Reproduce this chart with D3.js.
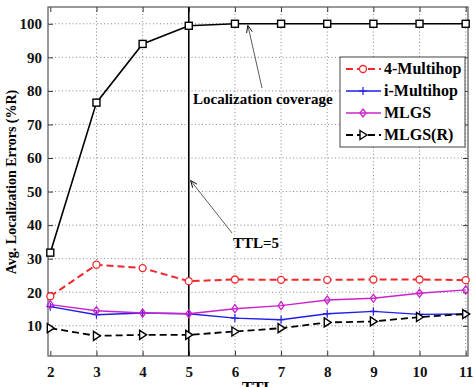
<!DOCTYPE html>
<html>
<head>
<meta charset="utf-8">
<script src="https://cdn.jsdelivr.net/npm/d3@7"></script>
<style>
  body { margin: 0; background: #fff; }
  text { font-family: "Liberation Serif", "Times New Roman", serif; font-weight: bold; }
</style>
</head>
<body>
<svg class="chart" width="474" height="387"></svg>
<script>
// values
let ttl = [2, 3, 4, 5, 6, 7, 8, 9, 10, 11];
let coverage = [31.8, 76.5, 94.0, 99.4, 100, 100, 100, 100, 100, 100];
let multihop4 = [18.8, 28.2, 27.2, 23.3, 23.8, 23.7, 23.7, 23.8, 23.8, 23.6];
let iMultihop = [15.7, 13.3, 13.8, 13.6, 12.3, 11.8, 13.6, 14.3, 13.4, 13.5];
let mlgs = [16.3, 14.5, 13.8, 13.6, 15.1, 16.0, 17.7, 18.2, 19.7, 20.7];
let mlgsR = [9.3, 7.0, 7.3, 7.3, 8.3, 9.3, 11.0, 11.3, 12.6, 13.5];
let yTicks = [10, 20, 30, 40, 50, 60, 70, 80, 90, 100];

let margin = { top: 7, right: 6, bottom: 31, left: 48 };
let svg = d3.select(".chart");
let width = 474 - margin.left - margin.right;
let height = 387 - margin.top - margin.bottom;
let g = svg.append("g").attr("transform", translate(margin.left, margin.top));

let x = d3.scaleLinear().domain([1.95, 11.05]).range([0, width]);
let y = d3.scaleLinear().domain([1, 105]).range([height, 0]);

// dotted grid
g.selectAll(".gx").data(ttl.slice(1)).enter().append("line")
  .attr("x1", d => x(d)).attr("x2", d => x(d))
  .attr("y1", 0).attr("y2", height)
  .style("stroke", "#888").style("stroke-dasharray", "1,2.5");
g.selectAll(".gy").data(yTicks).enter().append("line")
  .attr("x1", 0).attr("x2", width)
  .attr("y1", d => y(d)).attr("y2", d => y(d))
  .style("stroke", "#888").style("stroke-dasharray", "1,2.5");

// axes, ticks pointing inward
g.append("g").attr("transform", translate(0, height))
  .call(d3.axisBottom(x).tickValues(ttl).tickSize(-5).tickPadding(10).tickFormat(d3.format("d")));
g.append("g").call(d3.axisTop(x).tickValues(ttl).tickSize(-5).tickFormat(""));
g.append("g")
  .call(d3.axisLeft(y).tickValues(yTicks).tickSize(-5).tickPadding(6));
g.append("g").attr("transform", translate(width, 0))
  .call(d3.axisRight(y).tickValues(yTicks).tickSize(-5).tickFormat(""));
g.selectAll(".domain").remove();
g.selectAll(".tick line").style("stroke", "#333");
g.selectAll(".tick text").style("font-size", "15px").style("fill", "#111");
g.append("rect").attr("width", width).attr("height", height)
  .style("fill", "none").style("stroke", "#555").style("stroke-width", 1.2);

// axis titles
svg.append("text").attr("x", margin.left + x(6.5)).attr("y", 393)
  .style("text-anchor", "middle").style("font-size", "16px").text("TTL");
svg.append("text").attr("transform", "translate(16,182) rotate(-90)")
  .style("text-anchor", "middle").style("font-size", "14px").text("Avg. Localization Errors (%R)");

// TTL = 5 vertical line
g.append("line").attr("x1", x(5)).attr("x2", x(5)).attr("y1", 0).attr("y2", height)
  .style("stroke", "#000").style("stroke-width", 1.6);

let line = d3.line().x((d, i) => x(ttl[i])).y(d => y(d));

let series = [
  { name: "4-Multihop", vals: multihop4, color: "#f0282d", dash: "7,4", marker: "circle", w: 2 },
  { name: "i-Multihop", vals: iMultihop, color: "#1f1fe6", dash: null, marker: "plus", w: 1.4 },
  { name: "MLGS", vals: mlgs, color: "#cc22cc", dash: null, marker: "diamond", w: 1.4 },
  { name: "MLGS(R)", vals: mlgsR, color: "#000", dash: "7,4", marker: "triangle", w: 1.8 }
];

function drawMarker(sel, type, color) {
  if (type === "circle") {
    sel.append("circle").attr("r", 3.5).style("fill", "#fff").style("stroke", color).style("stroke-width", 1.3);
  } else if (type === "plus") {
    sel.append("path").attr("d", "M-4,0H4M0,-4V4").style("stroke", color).style("stroke-width", 1.2);
  } else if (type === "diamond") {
    sel.append("path").attr("d", "M0,-4L3,0L0,4L-3,0Z").style("fill", "none").style("stroke", color).style("stroke-width", 1.3);
  } else if (type === "triangle") {
    sel.append("path").attr("d", "M-3,-4.5L4,0L-3,4.5Z").style("fill", "#fff").style("stroke", color).style("stroke-width", 1.4);
  } else if (type === "square") {
    sel.append("rect").attr("x", -3.5).attr("y", -3.5).attr("width", 7).attr("height", 7)
      .style("fill", "#fff").style("stroke", color).style("stroke-width", 1.4);
  }
}

// coverage curve
g.append("path").datum(coverage).attr("d", line)
  .style("fill", "none").style("stroke", "#000").style("stroke-width", 1.6);
coverage.forEach(function(v, i) {
  drawMarker(g.append("g").attr("transform", translate(x(ttl[i]), y(v))), "square", "#000");
});

series.forEach(function(s) {
  g.append("path").datum(s.vals).attr("d", line)
    .style("fill", "none").style("stroke", s.color).style("stroke-width", s.w)
    .style("stroke-dasharray", s.dash);
  s.vals.forEach(function(v, i) {
    drawMarker(g.append("g").attr("transform", translate(x(ttl[i]), y(v))), s.marker, s.color);
  });
});

// annotations
svg.append("defs").append("marker").attr("id", "arr")
  .attr("viewBox", "0 0 10 10").attr("refX", 9).attr("refY", 5)
  .attr("markerWidth", 9).attr("markerHeight", 9).attr("orient", "auto")
  .append("path").attr("d", "M0,1L10,5L0,9").style("fill", "none").style("stroke", "#000").style("stroke-width", 1.2);

svg.append("line").attr("x1", 262).attr("y1", 88).attr("x2", 248).attr("y2", 26)
  .style("stroke", "#333").style("stroke-width", 0.8).attr("marker-end", "url(#arr)");
svg.append("text").attr("x", 193).attr("y", 104).style("font-size", "15px").text("Localization coverage");

svg.append("line").attr("x1", 232).attr("y1", 233).attr("x2", 191).attr("y2", 181)
  .style("stroke", "#333").style("stroke-width", 0.8).attr("marker-end", "url(#arr)");
svg.append("text").attr("x", 233).attr("y", 248).style("font-size", "15px").text("TTL=5");

// legend
let lg = svg.append("g").attr("transform", translate(340, 57));
lg.append("rect").attr("width", 125).attr("height", 90)
  .style("fill", "#fff").style("stroke", "#444").style("stroke-width", 1);
series.forEach(function(s, i) {
  let row = lg.append("g").attr("transform", translate(0, 12 + i * 22));
  row.append("line").attr("x1", 6).attr("x2", 41).attr("y1", 0).attr("y2", 0)
    .style("stroke", s.color).style("stroke-width", s.w).style("stroke-dasharray", s.dash);
  drawMarker(row.append("g").attr("transform", translate(23, 0)), s.marker, s.color);
  row.append("text").attr("x", 44).attr("y", 5).style("font-size", "16px").text(s.name);
});

function translate(x, y) {
  return "translate(" + x + "," + y + ")";
}
</script>
</body>
</html>
